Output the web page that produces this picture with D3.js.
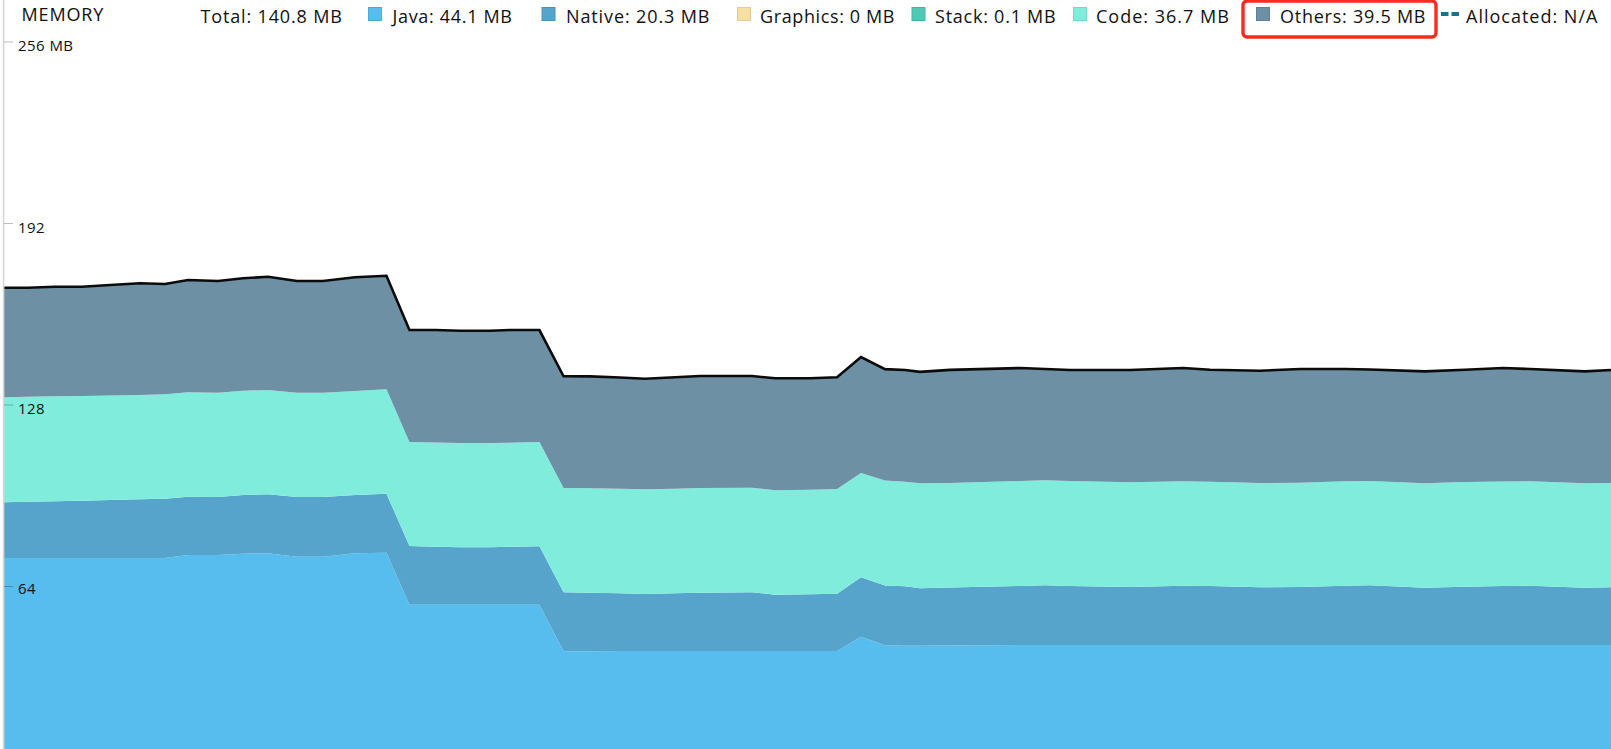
<!DOCTYPE html>
<html><head><meta charset="utf-8">
<script src="https://cdn.jsdelivr.net/npm/d3@7"></script>
<style>
html,body{margin:0;padding:0;background:#fff;overflow:hidden}
svg{display:block}
text{font-family:"Open Sans","Noto Sans",sans-serif;fill:#111}
</style></head><body>
<svg id="c" width="1611" height="749"></svg>
<script>
const timeline=[0,1.49,3.17,4.85,6.60,8.46,10.02,11.45,13.32,14.87,16.43,18.23,19.85,21.84,23.80,25.23,26.82,28.38,30.24,31.49,33.32,34.82,36.47,38.33,39.89,41.76,43.31,46.55,47.98,50.16,51.84,53.33,54.82,56.07,57.00,58.87,63.23,64.78,66.34,70.07,73.37,75.05,78.16,80.65,83.45,85.00,88.42,90.91,93.28,94.96,98.38,100];
const java=[73.87,73.87,73.87,73.87,73.87,73.87,73.87,74.93,74.93,75.39,75.53,74.33,74.33,75.53,75.74,57.40,57.40,57.40,57.40,57.40,57.40,40.97,40.97,41.08,41.08,41.08,41.08,41.08,41.08,41.08,41.08,46.12,43.09,42.95,42.95,43.02,43.19,43.19,43.19,43.19,43.19,43.19,43.19,43.19,43.19,43.19,43.19,43.19,43.19,43.19,43.19,43.19];
const native=[19.64,19.85,20.03,20.20,20.45,20.70,20.91,20.56,20.45,20.70,20.80,21.05,21.05,20.56,20.80,20.70,20.45,20.24,20.24,20.45,20.59,20.80,20.66,20.35,20.10,20.35,20.56,20.70,19.85,19.99,20.20,20.95,21.12,20.95,20.24,20.45,20.80,21.05,20.80,20.45,20.91,20.80,20.35,20.45,20.91,21.05,20.20,20.56,20.80,20.91,20.20,20.35];
const code=[37.02,37.02,36.99,36.92,36.85,36.78,36.81,36.81,36.78,36.78,36.78,36.78,36.78,36.67,36.81,36.67,36.74,36.78,36.78,36.67,36.78,36.78,36.81,36.85,36.92,36.88,36.92,36.88,36.81,36.88,36.92,36.78,37.02,36.88,37.02,36.85,37.02,37.02,37.02,36.92,36.81,36.78,36.78,36.78,36.81,36.78,36.81,36.92,36.85,36.81,36.81,36.78];
const others=[38.65,38.43,38.65,38.54,38.96,39.39,38.89,39.60,39.39,39.63,39.95,39.39,39.39,40.09,40.06,39.49,39.67,39.60,39.60,39.74,39.49,39.39,39.49,39.25,39.00,39.28,39.49,39.39,39.49,39.28,39.39,40.90,39.25,39.39,39.30,39.90,39.84,39.25,39.14,39.60,39.95,39.49,39.60,40.09,39.60,39.32,39.49,39.60,40.02,39.60,39.49,39.84];
const seriesKeys=["java","native","code","others"];
const seriesColors=["#56BDEE","#56A3CC","#80EDDC","#6D90A5"];
const tickValues=[64,128,192,256];
const tickLabels=["64","128","192","256 MB"];
const title="MEMORY";
const totalLabel="Total: 140.8 MB";
const legendLabels=["Java: 44.1 MB","Native: 20.3 MB","Graphics: 0 MB","Stack: 0.1 MB","Code: 36.7 MB","Others: 39.5 MB"];
const legendColors=["#56BDEE","#56A3CC","#F5DFA5","#4EC9B5","#80EDDC","#6D90A5"];
const legendStroke=["#4FA8D6","#4C93B8","#E3CC92","#45B5A3","#72D8C8","#5F7F93"];
const legendSwatchX=[368,541.5,737,911.5,1073,1256];
const legendTextX=[392.5,566,760,935,1096,1280];
const legendSpacing=[0.68,0.88,0.62,0.76,1.0,0.75];
const allocatedLabel="Allocated: N/A";

const svg=d3.select("#c");
const x=d3.scaleLinear().domain([0,100]).range([4,1611]);
const y=d3.scaleLinear().domain([0,256]).range([767.5,41.5]);
const rows=timeline.map((t,i)=>({t,java:java[i],native:native[i],code:code[i],others:others[i]}));
const stacked=d3.stack().keys(seriesKeys)(rows);
const area=d3.area().x(d=>x(d.data.t)).y0(d=>y(d[0])).y1(d=>y(d[1]));
svg.append("g").selectAll("path").data(stacked).join("path")
  .attr("d",area).attr("fill",(d,i)=>seriesColors[i]);
svg.append("path").datum(stacked[3])
  .attr("d",d3.line().x(d=>x(d.data.t)).y(d=>y(d[1])))
  .attr("fill","none").attr("stroke","#0b0b0b").attr("stroke-width",2.6).attr("stroke-linejoin","miter");

// axis
svg.append("rect").attr("x",2.8).attr("y",0).attr("width",1.6).attr("height",749).attr("fill","#d6d6d6");
const axis=d3.axisRight(y).tickValues(tickValues).tickSize(9).tickPadding(5)
  .tickFormat((d,i)=>tickLabels[i]);
const ag=svg.append("g").attr("transform","translate(4,0)").call(axis);
ag.select(".domain").remove();
ag.selectAll(".tick line").attr("stroke","#000").attr("stroke-opacity",0.25);
ag.selectAll(".tick text").attr("dy","0.95em").attr("y",d=>d===64?-6.5:(d===192?-4.5:-5.5))
  .style("font-size","15px").style("letter-spacing","0.45px").style("fill","#111");

// header
const f=18;
svg.append("text").attr("x",21.5).attr("y",20.5).style("font-size",f+"px").style("letter-spacing","0.85px").text(title);
svg.append("text").attr("x",200.5).attr("y",22.5).style("font-size",f+"px").style("letter-spacing","0.85px").text(totalLabel);
const lg=svg.append("g").selectAll("g").data(legendLabels).join("g");
lg.append("rect").attr("x",(d,i)=>legendSwatchX[i]+.5).attr("y",7.5).attr("width",13).attr("height",13)
  .attr("fill",(d,i)=>legendColors[i]).attr("stroke",(d,i)=>legendStroke[i]);
lg.append("text").attr("x",(d,i)=>legendTextX[i]).attr("y",22.5).style("font-size",f+"px")
  .style("letter-spacing",(d,i)=>legendSpacing[i]+"px").text(d=>d);
svg.append("line").attr("x1",1441).attr("x2",1459).attr("y1",14).attr("y2",14)
  .attr("stroke","#1F6E8C").attr("stroke-width",4).attr("stroke-dasharray","7.5 3");
svg.append("text").attr("x",1466).attr("y",22.5).style("font-size",f+"px").style("letter-spacing","1px").text(allocatedLabel);
// annotation box
svg.append("rect").attr("x",1243).attr("y",1).attr("width",193).attr("height",36).attr("rx",4)
  .attr("fill","none").attr("stroke","#FF2A1F").attr("stroke-width",3.4);
</script>
</body></html>
